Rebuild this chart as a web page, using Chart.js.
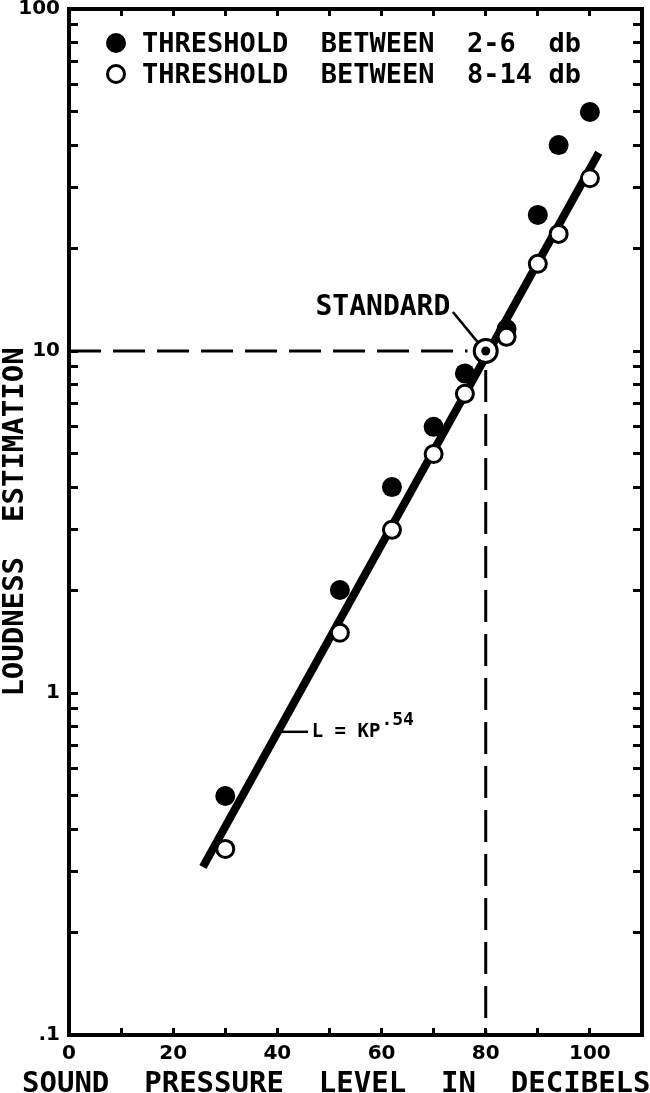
<!DOCTYPE html>
<html>
<head>
<meta charset="utf-8">
<script src="https://cdn.jsdelivr.net/npm/chart.js@4.4.0/dist/chart.umd.min.js"></script>
<style>
  html, body { margin: 0; padding: 0; background: #fff; }
  #wrap { width: 650px; height: 1093px; }
</style>
</head>
<body>
<div id="wrap"><canvas id="chart"></canvas></div>
<script>
'use strict';

// sound pressure level of each test tone (db)
let levels = [30, 52, 62, 70, 76, 80, 84, 90, 94, 100];
// loudness estimates, listeners with threshold 2-6 db
let lowThreshold = [0.5, 2.0, 4.0, 6.0, 8.6, 10, 11.6, 25, 40, 50];
// loudness estimates, listeners with threshold 8-14 db
let highThreshold = [0.35, 1.5, 3.0, 5.0, 7.5, 10, 11, 18, 22, 32];

// the standard tone
let standardLevel = 80;
let standardLoudness = 10;

// fitted line L = KP^.54, its two drawn ends
let fitLevels = [25.7, 101.7];
let fitLoudness = [0.31, 38];

// dashed guides to the standard
let guideAcrossLevels = [0, 76.5];
let guideAcrossLoudness = [10, 10];
let guideDownLevels = [80, 80];
let guideDownLoudness = [8.8, 0.1];

// leader strokes for the notes
let standardLeaderLevels = [73.7, 78.5];
let standardLeaderLoudness = [13, 10.6];
let formulaLeaderLevels = [40.5, 45.9];
let formulaLeaderLoudness = [0.77, 0.77];

let xTicks = [0, 10, 20, 30, 40, 50, 60, 70, 80, 90, 100, 110];
let xTickLabels = ['0', '', '20', '', '40', '', '60', '', '80', '', '100', ''];
let yTicks = [0.1, 0.2, 0.3, 0.4, 0.5, 0.6, 0.7, 0.8, 0.9,
  1, 2, 3, 4, 5, 6, 7, 8, 9,
  10, 20, 30, 40, 50, 60, 70, 80, 90, 100];
let yTickLabels = ['.1', '', '', '', '', '', '', '', '',
  '1', '', '', '', '', '', '', '', '',
  '10', '', '', '', '', '', '', '', '', '100'];

let legendLow = 'THRESHOLD  BETWEEN  2-6  db';
let legendHigh = 'THRESHOLD  BETWEEN  8-14 db';
let xTitle = 'SOUND  PRESSURE  LEVEL  IN  DECIBELS';
let yTitle = 'LOUDNESS  ESTIMATION';

let mono = '"DejaVu Sans Mono", monospace';
let sans = '"DejaVu Sans", sans-serif';

function toPoints(xs, ys) {
  return xs.map((x, i) => ({x: x, y: ys[i]}));
}

function strokeSet(xs, ys, width, dash) {
  return {
    data: toPoints(xs, ys),
    showLine: true,
    borderColor: '#000',
    borderWidth: width,
    borderDash: dash || [],
    pointRadius: 0
  };
}

function setTicks(values) {
  return function(axis) {
    axis.ticks = values.map(v => ({value: v}));
  };
}

// fixed axis size, and no extra room asked for overhanging labels
function fixSize(w, h) {
  return function(s) {
    if (w !== null) s.width = w;
    if (h !== null) s.height = h;
    s.paddingTop = 0;
    s.paddingBottom = 0;
    s.paddingLeft = 0;
    s.paddingRight = 0;
  };
}

let notes = {
  id: 'notes',
  afterDraw(chart) {
    let ctx = chart.ctx;
    let area = chart.chartArea;
    let x = chart.scales.x;
    let y = chart.scales.y;
    ctx.save();
    ctx.fillStyle = '#000';
    ctx.strokeStyle = '#000';

    // legend
    let lx = area.left + 47;
    ctx.beginPath();
    ctx.arc(lx, area.top + 34, 10, 0, Math.PI * 2);
    ctx.fill();
    ctx.beginPath();
    ctx.lineWidth = 3;
    ctx.arc(lx, area.top + 65, 8.5, 0, Math.PI * 2);
    ctx.stroke();
    ctx.font = 'bold 27px ' + mono;
    ctx.textAlign = 'left';
    ctx.textBaseline = 'alphabetic';
    ctx.fillText(legendLow, lx + 26, area.top + 43);
    ctx.fillText(legendHigh, lx + 26, area.top + 74);

    // note for the standard
    ctx.font = 'bold 28px ' + mono;
    ctx.textAlign = 'right';
    ctx.fillText('STANDARD', x.getPixelForValue(73.2), y.getPixelForValue(12.7));

    // formula of the fitted line
    ctx.textAlign = 'left';
    ctx.font = 'bold 19px ' + mono;
    let fx = x.getPixelForValue(46.6);
    let fy = y.getPixelForValue(0.744);
    ctx.fillText('L = KP', fx, fy);
    let w = ctx.measureText('L = KP').width;
    ctx.font = 'bold 18px ' + mono;
    ctx.fillText('.54', fx + w + 1, fy - 12);

    // x axis title
    ctx.font = 'bold 29px ' + mono;
    ctx.textAlign = 'left';
    ctx.fillText(xTitle, 22, chart.height - 1);
    ctx.restore();
  }
};

let canvasElem = document.getElementById('chart');

let chartObj = {
  type: 'scatter',
  data: {
    datasets: [
      {
        label: 'Standard',
        data: [{x: standardLevel, y: standardLoudness}],
        pointRadius: 4.5,
        pointBackgroundColor: '#000',
        pointBorderWidth: 0
      },
      {
        label: legendHigh,
        data: toPoints(levels, highThreshold),
        pointRadius: c => (c.raw && c.raw.x === standardLevel) ? 11.5 : 8.5,
        pointBackgroundColor: '#fff',
        pointBorderColor: '#000',
        pointBorderWidth: 3
      },
      {
        label: legendLow,
        data: toPoints(levels, lowThreshold),
        pointRadius: 10,
        pointBackgroundColor: '#000',
        pointBorderWidth: 0
      },
      strokeSet(fitLevels, fitLoudness, 8),
      strokeSet(standardLeaderLevels, standardLeaderLoudness, 2.5),
      strokeSet(formulaLeaderLevels, formulaLeaderLoudness, 2.5),
      strokeSet(guideAcrossLevels, guideAcrossLoudness, 3, [32, 12]),
      strokeSet(guideDownLevels, guideDownLoudness, 3, [32, 12])
    ]
  },
  options: {
    responsive: true,
    maintainAspectRatio: false,
    animation: false,
    events: [],
    layout: { padding: 0, autoPadding: false },
    plugins: {
      legend: { display: false },
      tooltip: { enabled: false }
    },
    scales: {
      x: {
        type: 'linear',
        position: 'bottom',
        min: 0,
        max: 110,
        afterBuildTicks: setTicks(xTicks),
        afterFit: fixSize(null, 58),
        ticks: {
          autoSkip: false,
          maxRotation: 0,
          color: '#000',
          padding: 14,
          font: { family: sans, weight: 'bold', size: 20 },
          callback: (v, i) => xTickLabels[i]
        },
        grid: { drawOnChartArea: false, tickLength: -7, tickWidth: 3, tickColor: '#000' },
        border: { display: true, color: '#000', width: 4 }
      },
      xTop: {
        type: 'linear',
        position: 'top',
        min: 0,
        max: 110,
        afterBuildTicks: setTicks(xTicks),
        afterFit: fixSize(null, 9),
        ticks: { display: false },
        grid: { drawOnChartArea: false, tickLength: -7, tickWidth: 3, tickColor: '#000' },
        border: { display: true, color: '#000', width: 4 }
      },
      y: {
        type: 'logarithmic',
        position: 'left',
        min: 0.1,
        max: 100,
        afterBuildTicks: setTicks(yTicks),
        afterFit: fixSize(69, null),
        ticks: {
          autoSkip: false,
          color: '#000',
          padding: 18,
          font: { family: sans, weight: 'bold', size: 20 },
          callback: (v, i) => yTickLabels[i]
        },
        title: {
          display: true,
          text: yTitle,
          color: '#000',
          font: { family: mono, weight: 'bold', size: 29 },
          padding: { top: -2, bottom: 0 }
        },
        grid: { drawOnChartArea: false, tickLength: -9, tickWidth: 3, tickColor: '#000' },
        border: { display: true, color: '#000', width: 4 }
      },
      yRight: {
        type: 'logarithmic',
        position: 'right',
        min: 0.1,
        max: 100,
        afterBuildTicks: setTicks(yTicks),
        afterFit: fixSize(8, null),
        ticks: { display: false },
        grid: { drawOnChartArea: false, tickLength: -9, tickWidth: 3, tickColor: '#000' },
        border: { display: true, color: '#000', width: 4 }
      }
    }
  },
  plugins: [notes]
};

new Chart(canvasElem, chartObj);
</script>
</body>
</html>
